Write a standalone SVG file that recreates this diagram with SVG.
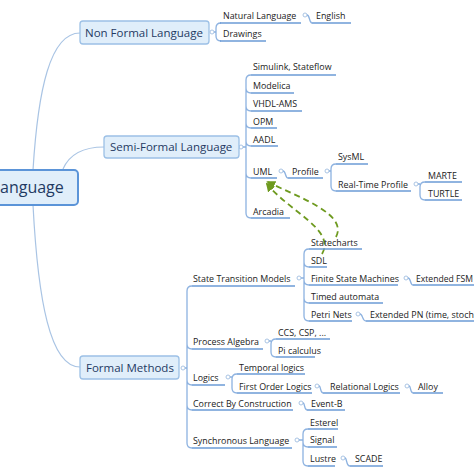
<svg xmlns="http://www.w3.org/2000/svg" width="474" height="474" viewBox="0 0 474 474">
<style>
.bg{fill:#ffffff}
.main{fill:#e0eefa;stroke:#9cc0e6;stroke-width:1.3}
.root{fill:#e0eefa;stroke:#5b94d8;stroke-width:2}
.mt{font-family:"Open Sans","DejaVu Sans",sans-serif;font-size:11.5px;fill:#1f3a63}
.rt{font-family:"Open Sans","DejaVu Sans",sans-serif;font-size:16px;fill:#1f3a63}
.t{font-family:"Open Sans","DejaVu Sans",sans-serif;font-size:8.9px;fill:#222222}
.ul{stroke:#6b9bd6;stroke-width:1.5;fill:none}
.br{stroke:#8db2e0;stroke-width:1.3;fill:none}
.conn{stroke:#a9c4e4;stroke-width:1.2;fill:none}
.dot{fill:#ffffff;stroke:#a9c4e4;stroke-width:1}
.dash{stroke:#6e9a1f;stroke-width:1.8;fill:none;stroke-dasharray:6 4}
</style>
<defs>
<marker id="ah" viewBox="0 0 10 10" refX="8" refY="5" markerWidth="5" markerHeight="5" orient="auto-start-reverse">
<path d="M0,0 L10,5 L0,10 z" fill="#6e9a1f"/>
</marker>
</defs>
<rect class="bg" x="0" y="0" width="474" height="474"/>

<g id="connectors">
<path class="conn" d="M 33 170 C 38 90, 50 33, 80 33"/>
<path class="conn" d="M 63 169 C 70 153, 85 147, 104 147"/>
<path class="conn" d="M 33 205 C 38 300, 50 367, 80 367"/>
<circle class="dot" cx="212" cy="32" r="2"/>
<path class="br" d="M 214 32 L 216 32 M 221 23 Q 216 23 216 28 L 216 36 Q 216 41 221 41"/>
<circle class="dot" cx="305" cy="15" r="2"/>
<path class="br" d="M 307 15 C 310 15, 309 23, 312 23"/>
<circle class="dot" cx="241" cy="147" r="2"/>
<path class="br" d="M 243 147 L 246 147 M 251 75 Q 246 75 246 80 L 246 213 Q 246 218 251 218 M 246 88 Q 246 93 251 93 M 246 106 Q 246 111 251 111 M 246 123 Q 246 128 251 128 M 246 141 Q 246 146 251 146 M 246 173 Q 246 178 251 178"/>
<circle class="dot" cx="281" cy="171" r="2"/>
<path class="br" d="M 283 171 C 286 171, 285 178, 288 178"/>
<circle class="dot" cx="327" cy="171" r="2"/>
<path class="br" d="M 329 171 L 331 171 M 336 164 Q 331 164 331 169 L 331 186 Q 331 191 336 191"/>
<circle class="dot" cx="416" cy="184" r="2"/>
<path class="br" d="M 418 184 L 420 184 M 425 182 Q 420 182 420 187 L 420 195 Q 420 200 425 200"/>
<circle class="dot" cx="183" cy="368" r="2"/>
<path class="br" d="M 185 368 L 187 368 M 192 286 Q 187 286 187 291 L 187 443 Q 187 448 192 448 M 187 344 Q 187 349 192 349 M 187 380 Q 187 385 192 385 M 187 405 Q 187 410 192 410"/>
<circle class="dot" cx="299" cy="278" r="2"/>
<path class="br" d="M 301 278 L 304 278 M 309 249 Q 304 249 304 254 L 304 316 Q 304 321 309 321 M 304 262 Q 304 267 309 267 M 304 280 Q 304 285 309 285 M 304 298 Q 304 303 309 303"/>
<circle class="dot" cx="406" cy="278" r="2"/>
<path class="br" d="M 408 278 C 411 278, 410 285, 413 285"/>
<circle class="dot" cx="358" cy="314" r="2"/>
<path class="br" d="M 360 314 C 363 314, 362 321, 366 321"/>
<circle class="dot" cx="267" cy="341" r="2"/>
<path class="br" d="M 269 341 L 271 341 M 276 339 Q 271 339 271 344 L 271 352 Q 271 357 276 357"/>
<circle class="dot" cx="228" cy="377" r="2"/>
<path class="br" d="M 230 377 L 232 377 M 237 374 Q 232 374 232 379 L 232 388 Q 232 393 237 393"/>
<circle class="dot" cx="317" cy="386" r="2"/>
<path class="br" d="M 319 386 C 321 386, 320 393, 323 393"/>
<circle class="dot" cx="407" cy="386" r="2"/>
<path class="br" d="M 409 386 C 411 386, 410 393, 413 393"/>
<circle class="dot" cx="301" cy="403" r="2"/>
<path class="br" d="M 303 403 C 305 403, 304 410, 307 410"/>
<circle class="dot" cx="297" cy="440" r="2"/>
<path class="br" d="M 299 440 L 303 440 M 308 429 Q 303 429 303 434 L 303 461 Q 303 466 308 466 M 303 442 Q 303 447 308 447"/>
<circle class="dot" cx="343" cy="458" r="2"/>
<path class="br" d="M 345 458 C 347 458, 346 466, 350 466"/>
<path class="dash" d="M 336 237 C 348 214, 300 198, 268 182" marker-end="url(#ah)"/>
<path class="dash" d="M 322 254 C 336 230, 290 212, 267 184" marker-end="url(#ah)"/>
</g>

<g id="root"><rect class="root" x="-10" y="170" width="88" height="35" rx="4"/><text class="rt" x="0" y="193">anguage</text></g>
<g id="non-formal"><rect class="main" x="80" y="21" width="129" height="23" rx="3"/><text class="mt" x="85" y="36.5">Non Formal Language</text></g>
<g id="semi-formal"><rect class="main" x="104" y="136" width="135" height="22" rx="3"/><text class="mt" x="110" y="151">Semi-Formal Language</text></g>
<g id="formal"><rect class="main" x="80" y="356" width="99" height="23" rx="3"/><text class="mt" x="86" y="372">Formal Methods</text></g>

<g id="natural-language"><text class="t" x="223" y="18.5">Natural Language</text><path class="ul" d="M 220 23 H 301"/></g>
<g id="english"><text class="t" x="316" y="18.5">English</text><path class="ul" d="M 312 23 H 351"/></g>
<g id="drawings"><text class="t" x="223" y="36.5">Drawings</text><path class="ul" d="M 220 41 H 266"/></g>

<g id="simulink"><text class="t" x="253" y="69.5">Simulink, Stateflow</text><path class="ul" d="M 251 75 H 336"/></g>
<g id="modelica"><text class="t" x="253" y="88.5">Modelica</text><path class="ul" d="M 251 93 H 294"/></g>
<g id="vhdl-ams"><text class="t" x="253" y="106.5">VHDL-AMS</text><path class="ul" d="M 251 111 H 302"/></g>
<g id="opm"><text class="t" x="253" y="124.5">OPM</text><path class="ul" d="M 251 128 H 277"/></g>
<g id="aadl"><text class="t" x="253" y="142.5">AADL</text><path class="ul" d="M 251 146 H 278"/></g>
<g id="uml"><text class="t" x="253" y="174.5">UML</text><path class="ul" d="M 251 178 H 277"/></g>
<g id="profile"><text class="t" x="292" y="174.5">Profile</text><path class="ul" d="M 288 178 H 323"/></g>
<g id="sysml"><text class="t" x="338" y="159.5">SysML</text><path class="ul" d="M 336 164 H 368"/></g>
<g id="real-time-profile"><text class="t" x="338" y="187.5">Real-Time Profile</text><path class="ul" d="M 336 191 H 411"/></g>
<g id="marte"><text class="t" x="428" y="178.5">MARTE</text><path class="ul" d="M 425 182 H 462"/></g>
<g id="turtle"><text class="t" x="428" y="196.5">TURTLE</text><path class="ul" d="M 425 200 H 462"/></g>
<g id="arcadia"><text class="t" x="253" y="214.5">Arcadia</text><path class="ul" d="M 251 218 H 290"/></g>

<g id="state-transition"><text class="t" x="193" y="281.5">State Transition Models</text><path class="ul" d="M 192 286 H 295"/></g>
<g id="statecharts"><text class="t" x="311" y="245.5">Statecharts</text><path class="ul" d="M 309 249 H 362"/></g>
<g id="sdl"><text class="t" x="311" y="263.5">SDL</text><path class="ul" d="M 309 267 H 327"/></g>
<g id="fsm"><text class="t" x="311" y="281.5">Finite State Machines</text><path class="ul" d="M 309 285 H 398"/></g>
<g id="extended-fsm"><text class="t" x="416" y="281.5" textLength="57" lengthAdjust="spacingAndGlyphs">Extended FSM</text><path class="ul" d="M 413 285 H 474"/></g>
<g id="timed-automata"><text class="t" x="311" y="299.5">Timed automata</text><path class="ul" d="M 309 303 H 383"/></g>
<g id="petri-nets"><text class="t" x="311" y="317.5">Petri Nets</text><path class="ul" d="M 309 321 H 352"/></g>
<g id="extended-pn"><text class="t" x="370" y="317.5">Extended PN (time, stoch</text><path class="ul" d="M 366 321 H 474"/></g>

<g id="process-algebra"><text class="t" x="193" y="344.5">Process Algebra</text><path class="ul" d="M 192 349 H 263"/></g>
<g id="ccs-csp"><text class="t" x="278" y="335.5">CCS, CSP, ...</text><path class="ul" d="M 276 339 H 330"/></g>
<g id="pi-calculus"><text class="t" x="278" y="354">Pi calculus</text><path class="ul" d="M 276 357 H 315"/></g>

<g id="logics"><text class="t" x="193" y="380.5">Logics</text><path class="ul" d="M 192 385 H 225"/></g>
<g id="temporal-logics"><text class="t" x="239" y="370.5">Temporal logics</text><path class="ul" d="M 237 374 H 305"/></g>
<g id="first-order-logics"><text class="t" x="239" y="389.5">First Order Logics</text><path class="ul" d="M 237 393 H 312"/></g>
<g id="relational-logics"><text class="t" x="330" y="389.5">Relational Logics</text><path class="ul" d="M 323 393 H 400"/></g>
<g id="alloy"><text class="t" x="418" y="389.5">Alloy</text><path class="ul" d="M 413 393 H 443"/></g>

<g id="correct-by-construction"><text class="t" x="193" y="406.5">Correct By Construction</text><path class="ul" d="M 192 410 H 293"/></g>
<g id="event-b"><text class="t" x="311" y="406.5">Event-B</text><path class="ul" d="M 307 410 H 345"/></g>

<g id="synchronous-language"><text class="t" x="193" y="443.5">Synchronous Language</text><path class="ul" d="M 192 448 H 292"/></g>
<g id="esterel"><text class="t" x="310" y="426">Esterel</text><path class="ul" d="M 308 429 H 338"/></g>
<g id="signal"><text class="t" x="310" y="442.5">Signal</text><path class="ul" d="M 308 447 H 337"/></g>
<g id="lustre"><text class="t" x="310" y="461.5">Lustre</text><path class="ul" d="M 308 466 H 335"/></g>
<g id="scade"><text class="t" x="355" y="461.5">SCADE</text><path class="ul" d="M 350 466 H 383"/></g>
</svg>
